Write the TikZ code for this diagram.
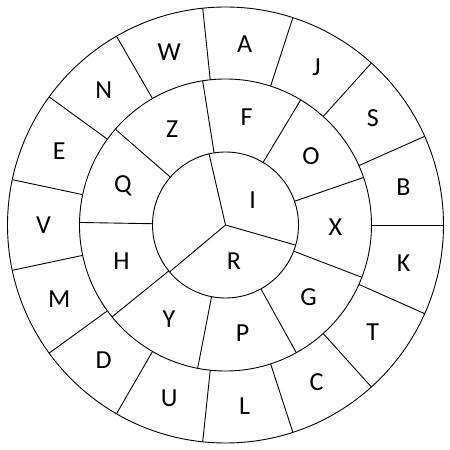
\documentclass[tikz,border=0pt]{standalone}
\usepackage{fontspec}
\setmainfont{Carlito}
\begin{document}
\begin{tikzpicture}[x=1pt,y=1pt,line width=0.9pt,
    lettre/.style={font=\fontsize{26}{30}\selectfont, inner sep=0pt}]
\useasboundingbox (0,0) rectangle (450,450);
\begin{scope}[shift={(225.5,225)}]
        % rings
        \draw (0,0) circle (218);
        \draw (0,0) circle (146);
        \draw (0,0) circle (73);
        % outer ring, 15 sectors
        \foreach \a in {0,24,...,336} \draw (\a:146) -- (\a:218);
        \foreach \l [count=\i from 0] in {B,S,J,A,W,N,E,V,M,D,U,L,C,T,K}
                \node[lettre] (out\i) at ({12+24*\i}:182) {\l};
        % middle ring, 9 sectors
        \foreach \a in {19,59,...,339} \draw (\a:73) -- (\a:146);
        \foreach \l [count=\i from 0] in {X,O,F,Z,Q,H,Y,P,G}
                \node[lettre] (mid\i) at ({-1+40*\i}:110) {\l};
        % centre, 3 sectors
        \foreach \a in {103,220,344} \draw (0,0) -- (\a:73);
        \node[lettre] (inI) at (43:37) {I};
        \node[lettre] (inR) at (283:37) {R};
\end{scope}
\end{tikzpicture}
\end{document}
